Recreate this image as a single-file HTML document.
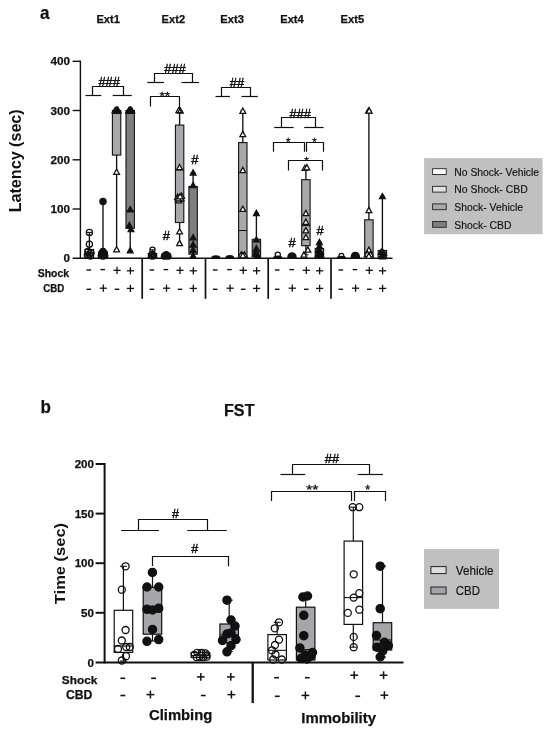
<!DOCTYPE html>
<html lang="en"><head><meta charset="utf-8"><title>Figure: Latency and FST</title>
<style>
html,body{margin:0;padding:0;background:#fff}
body{width:550px;height:732px;overflow:hidden}
svg{display:block;font-family:"Liberation Sans",Arial,sans-serif;fill:#111}
</style></head><body>
<svg width="550" height="732" viewBox="0 0 550 732">
<rect x="0" y="0" width="550" height="732" fill="#fff" stroke="none"/>
<text x="40.0" y="18.7" font-size="18.5" font-weight="bold" stroke="#111" stroke-width="0.25" textLength="9.5" lengthAdjust="spacingAndGlyphs">a</text>
<text x="96.4" y="23.1" font-size="11" font-weight="bold" stroke="#111" stroke-width="0.25" textLength="23.6" lengthAdjust="spacingAndGlyphs">Ext1</text>
<text x="161.5" y="23.1" font-size="11" font-weight="bold" stroke="#111" stroke-width="0.25" textLength="23.6" lengthAdjust="spacingAndGlyphs">Ext2</text>
<text x="220.3" y="23.1" font-size="11" font-weight="bold" stroke="#111" stroke-width="0.25" textLength="23.6" lengthAdjust="spacingAndGlyphs">Ext3</text>
<text x="280.2" y="23.1" font-size="11" font-weight="bold" stroke="#111" stroke-width="0.25" textLength="23.6" lengthAdjust="spacingAndGlyphs">Ext4</text>
<text x="340.5" y="23.1" font-size="11" font-weight="bold" stroke="#111" stroke-width="0.25" textLength="23.6" lengthAdjust="spacingAndGlyphs">Ext5</text>
<text transform="translate(20.6,212.3) rotate(-90)" font-size="15.6" font-weight="bold" textLength="103" lengthAdjust="spacingAndGlyphs">Latency (sec)</text>
<line x1="80.4" y1="60.6" x2="80.4" y2="258.9" stroke="#111" stroke-width="1.4"/>
<line x1="72.6" y1="258.2" x2="392.5" y2="258.2" stroke="#111" stroke-width="1.4"/>
<text x="69.9" y="262.3" font-size="11.7" font-weight="bold" stroke="#111" stroke-width="0.25" text-anchor="end">0</text>
<line x1="72.6" y1="209.0" x2="80.4" y2="209.0" stroke="#111" stroke-width="1.4"/>
<text x="69.9" y="213.1" font-size="11.7" font-weight="bold" stroke="#111" stroke-width="0.25" text-anchor="end">100</text>
<line x1="72.6" y1="159.8" x2="80.4" y2="159.8" stroke="#111" stroke-width="1.4"/>
<text x="69.9" y="163.9" font-size="11.7" font-weight="bold" stroke="#111" stroke-width="0.25" text-anchor="end">200</text>
<line x1="72.6" y1="110.5" x2="80.4" y2="110.5" stroke="#111" stroke-width="1.4"/>
<text x="69.9" y="114.6" font-size="11.7" font-weight="bold" stroke="#111" stroke-width="0.25" text-anchor="end">300</text>
<line x1="72.6" y1="61.3" x2="80.4" y2="61.3" stroke="#111" stroke-width="1.4"/>
<text x="69.9" y="65.4" font-size="11.7" font-weight="bold" stroke="#111" stroke-width="0.25" text-anchor="end">400</text>
<line x1="142.2" y1="258.2" x2="142.2" y2="298.8" stroke="#111" stroke-width="1.7"/>
<line x1="205.5" y1="258.2" x2="205.5" y2="298.8" stroke="#111" stroke-width="1.7"/>
<line x1="268.2" y1="258.2" x2="268.2" y2="298.8" stroke="#111" stroke-width="1.7"/>
<line x1="331.0" y1="258.2" x2="331.0" y2="298.8" stroke="#111" stroke-width="1.7"/>
<text x="37.8" y="277.3" font-size="10.6" font-weight="bold" stroke="#111" stroke-width="0.25" textLength="31.3" lengthAdjust="spacingAndGlyphs">Shock</text>
<text x="43.3" y="291.6" font-size="10.2" font-weight="bold" stroke="#111" stroke-width="0.25" textLength="21.0" lengthAdjust="spacingAndGlyphs">CBD</text>
<line x1="86.5" y1="270.0" x2="91.1" y2="270.0" stroke="#111" stroke-width="1.4"/>
<line x1="100.4" y1="269.6" x2="105.0" y2="269.6" stroke="#111" stroke-width="1.4"/>
<line x1="113.4" y1="270.3" x2="120.6" y2="270.3" stroke="#111" stroke-width="1.3"/>
<line x1="117.0" y1="266.7" x2="117.0" y2="273.9" stroke="#111" stroke-width="1.3"/>
<line x1="126.8" y1="270.8" x2="134.0" y2="270.8" stroke="#111" stroke-width="1.3"/>
<line x1="130.4" y1="267.2" x2="130.4" y2="274.4" stroke="#111" stroke-width="1.3"/>
<line x1="86.5" y1="289.3" x2="91.1" y2="289.3" stroke="#111" stroke-width="1.4"/>
<line x1="99.7" y1="288.2" x2="106.9" y2="288.2" stroke="#111" stroke-width="1.3"/>
<line x1="103.3" y1="284.6" x2="103.3" y2="291.8" stroke="#111" stroke-width="1.3"/>
<line x1="114.7" y1="289.3" x2="119.3" y2="289.3" stroke="#111" stroke-width="1.4"/>
<line x1="126.8" y1="288.4" x2="134.0" y2="288.4" stroke="#111" stroke-width="1.3"/>
<line x1="130.4" y1="284.8" x2="130.4" y2="292.0" stroke="#111" stroke-width="1.3"/>
<line x1="149.6" y1="270.0" x2="154.2" y2="270.0" stroke="#111" stroke-width="1.4"/>
<line x1="163.6" y1="269.6" x2="168.2" y2="269.6" stroke="#111" stroke-width="1.4"/>
<line x1="176.4" y1="270.3" x2="183.6" y2="270.3" stroke="#111" stroke-width="1.3"/>
<line x1="180.0" y1="266.7" x2="180.0" y2="273.9" stroke="#111" stroke-width="1.3"/>
<line x1="189.7" y1="270.8" x2="196.9" y2="270.8" stroke="#111" stroke-width="1.3"/>
<line x1="193.3" y1="267.2" x2="193.3" y2="274.4" stroke="#111" stroke-width="1.3"/>
<line x1="149.6" y1="289.3" x2="154.2" y2="289.3" stroke="#111" stroke-width="1.4"/>
<line x1="162.9" y1="288.2" x2="170.1" y2="288.2" stroke="#111" stroke-width="1.3"/>
<line x1="166.5" y1="284.6" x2="166.5" y2="291.8" stroke="#111" stroke-width="1.3"/>
<line x1="177.7" y1="289.3" x2="182.3" y2="289.3" stroke="#111" stroke-width="1.4"/>
<line x1="189.7" y1="288.4" x2="196.9" y2="288.4" stroke="#111" stroke-width="1.3"/>
<line x1="193.3" y1="284.8" x2="193.3" y2="292.0" stroke="#111" stroke-width="1.3"/>
<line x1="212.9" y1="270.0" x2="217.5" y2="270.0" stroke="#111" stroke-width="1.4"/>
<line x1="227.2" y1="269.6" x2="231.8" y2="269.6" stroke="#111" stroke-width="1.4"/>
<line x1="239.6" y1="270.3" x2="246.8" y2="270.3" stroke="#111" stroke-width="1.3"/>
<line x1="243.2" y1="266.7" x2="243.2" y2="273.9" stroke="#111" stroke-width="1.3"/>
<line x1="253.0" y1="270.8" x2="260.2" y2="270.8" stroke="#111" stroke-width="1.3"/>
<line x1="256.6" y1="267.2" x2="256.6" y2="274.4" stroke="#111" stroke-width="1.3"/>
<line x1="212.9" y1="289.3" x2="217.5" y2="289.3" stroke="#111" stroke-width="1.4"/>
<line x1="226.5" y1="288.2" x2="233.7" y2="288.2" stroke="#111" stroke-width="1.3"/>
<line x1="230.1" y1="284.6" x2="230.1" y2="291.8" stroke="#111" stroke-width="1.3"/>
<line x1="240.9" y1="289.3" x2="245.5" y2="289.3" stroke="#111" stroke-width="1.4"/>
<line x1="253.0" y1="288.4" x2="260.2" y2="288.4" stroke="#111" stroke-width="1.3"/>
<line x1="256.6" y1="284.8" x2="256.6" y2="292.0" stroke="#111" stroke-width="1.3"/>
<line x1="274.9" y1="270.0" x2="279.5" y2="270.0" stroke="#111" stroke-width="1.4"/>
<line x1="289.4" y1="269.6" x2="294.0" y2="269.6" stroke="#111" stroke-width="1.4"/>
<line x1="302.7" y1="270.3" x2="309.9" y2="270.3" stroke="#111" stroke-width="1.3"/>
<line x1="306.3" y1="266.7" x2="306.3" y2="273.9" stroke="#111" stroke-width="1.3"/>
<line x1="316.0" y1="270.8" x2="323.2" y2="270.8" stroke="#111" stroke-width="1.3"/>
<line x1="319.6" y1="267.2" x2="319.6" y2="274.4" stroke="#111" stroke-width="1.3"/>
<line x1="274.9" y1="289.3" x2="279.5" y2="289.3" stroke="#111" stroke-width="1.4"/>
<line x1="288.7" y1="288.2" x2="295.9" y2="288.2" stroke="#111" stroke-width="1.3"/>
<line x1="292.3" y1="284.6" x2="292.3" y2="291.8" stroke="#111" stroke-width="1.3"/>
<line x1="304.0" y1="289.3" x2="308.6" y2="289.3" stroke="#111" stroke-width="1.4"/>
<line x1="316.0" y1="288.4" x2="323.2" y2="288.4" stroke="#111" stroke-width="1.3"/>
<line x1="319.6" y1="284.8" x2="319.6" y2="292.0" stroke="#111" stroke-width="1.3"/>
<line x1="338.5" y1="270.0" x2="343.1" y2="270.0" stroke="#111" stroke-width="1.4"/>
<line x1="352.7" y1="269.6" x2="357.3" y2="269.6" stroke="#111" stroke-width="1.4"/>
<line x1="365.7" y1="270.3" x2="372.9" y2="270.3" stroke="#111" stroke-width="1.3"/>
<line x1="369.3" y1="266.7" x2="369.3" y2="273.9" stroke="#111" stroke-width="1.3"/>
<line x1="379.0" y1="270.8" x2="386.2" y2="270.8" stroke="#111" stroke-width="1.3"/>
<line x1="382.6" y1="267.2" x2="382.6" y2="274.4" stroke="#111" stroke-width="1.3"/>
<line x1="338.5" y1="289.3" x2="343.1" y2="289.3" stroke="#111" stroke-width="1.4"/>
<line x1="352.0" y1="288.2" x2="359.2" y2="288.2" stroke="#111" stroke-width="1.3"/>
<line x1="355.6" y1="284.6" x2="355.6" y2="291.8" stroke="#111" stroke-width="1.3"/>
<line x1="367.0" y1="289.3" x2="371.6" y2="289.3" stroke="#111" stroke-width="1.4"/>
<line x1="379.0" y1="288.4" x2="386.2" y2="288.4" stroke="#111" stroke-width="1.3"/>
<line x1="382.6" y1="284.8" x2="382.6" y2="292.0" stroke="#111" stroke-width="1.3"/>
<rect x="85.2" y="249.5" width="8.4" height="8.1" fill="#fff" stroke="#111" stroke-width="1.1"/>
<line x1="85.2" y1="254.0" x2="93.6" y2="254.0" stroke="#111" stroke-width="1.0"/>
<line x1="89.4" y1="232.4" x2="89.4" y2="249.5" stroke="#111" stroke-width="1.35"/>
<line x1="86.9" y1="232.4" x2="91.9" y2="232.4" stroke="#111" stroke-width="1.1"/>
<circle cx="89.4" cy="232.4" r="3.1" fill="none" stroke="#111" stroke-width="1.25"/>
<circle cx="89.4" cy="244.3" r="3.1" fill="none" stroke="#111" stroke-width="1.25"/>
<circle cx="87.9" cy="251.5" r="3.1" fill="none" stroke="#111" stroke-width="1.25"/>
<circle cx="90.9" cy="253.0" r="3.1" fill="none" stroke="#111" stroke-width="1.25"/>
<circle cx="87.4" cy="255.0" r="3.1" fill="none" stroke="#111" stroke-width="1.25"/>
<circle cx="90.4" cy="256.0" r="3.1" fill="none" stroke="#111" stroke-width="1.25"/>
<circle cx="89.4" cy="254.0" r="3.1" fill="none" stroke="#111" stroke-width="1.25"/>
<rect x="98.8" y="252.0" width="8.4" height="5.6" fill="#e0e0e0" stroke="#111" stroke-width="1.1"/>
<line x1="98.8" y1="255.0" x2="107.2" y2="255.0" stroke="#111" stroke-width="1.0"/>
<line x1="103.0" y1="201.5" x2="103.0" y2="252.0" stroke="#111" stroke-width="1.35"/>
<line x1="100.5" y1="201.5" x2="105.5" y2="201.5" stroke="#111" stroke-width="1.1"/>
<circle cx="103.0" cy="201.5" r="3.1" fill="#111" stroke="#111" stroke-width="1.25"/>
<circle cx="103.0" cy="251.5" r="3.1" fill="#111" stroke="#111" stroke-width="1.25"/>
<circle cx="101.7" cy="253.5" r="3.1" fill="#111" stroke="#111" stroke-width="1.25"/>
<circle cx="104.3" cy="253.5" r="3.1" fill="#111" stroke="#111" stroke-width="1.25"/>
<circle cx="101.3" cy="255.6" r="3.1" fill="#111" stroke="#111" stroke-width="1.25"/>
<circle cx="104.7" cy="255.6" r="3.1" fill="#111" stroke="#111" stroke-width="1.25"/>
<circle cx="103.0" cy="256.0" r="3.1" fill="#111" stroke="#111" stroke-width="1.25"/>
<rect x="112.4" y="110.5" width="8.4" height="44.6" fill="#a9a9ad" stroke="#111" stroke-width="1.1"/>
<line x1="116.6" y1="155.1" x2="116.6" y2="250.0" stroke="#111" stroke-width="1.35"/>
<line x1="114.1" y1="250.0" x2="119.1" y2="250.0" stroke="#111" stroke-width="1.1"/>
<path d="M116.6 169.1L119.5 174.3L113.7 174.3Z" fill="#fff" stroke="#111" stroke-width="1.25" stroke-linejoin="miter"/>
<path d="M116.6 246.6L119.5 251.8L113.7 251.8Z" fill="#fff" stroke="#111" stroke-width="1.25" stroke-linejoin="miter"/>
<path d="M115.0 107.7L117.9 112.9L112.1 112.9Z" fill="none" stroke="#111" stroke-width="1.25" stroke-linejoin="miter"/>
<path d="M115.8 107.4L118.7 112.6L112.9 112.6Z" fill="none" stroke="#111" stroke-width="1.25" stroke-linejoin="miter"/>
<path d="M116.6 107.9L119.5 113.1L113.7 113.1Z" fill="none" stroke="#111" stroke-width="1.25" stroke-linejoin="miter"/>
<path d="M117.4 107.4L120.3 112.6L114.5 112.6Z" fill="none" stroke="#111" stroke-width="1.25" stroke-linejoin="miter"/>
<path d="M118.2 107.7L121.1 112.9L115.3 112.9Z" fill="none" stroke="#111" stroke-width="1.25" stroke-linejoin="miter"/>
<path d="M116.9 107.1L119.8 112.3L114.0 112.3Z" fill="none" stroke="#111" stroke-width="1.25" stroke-linejoin="miter"/>
<path d="M116.2 108.1L119.1 113.3L113.3 113.3Z" fill="none" stroke="#111" stroke-width="1.25" stroke-linejoin="miter"/>
<rect x="126.0" y="110.5" width="8.4" height="117.8" fill="#7f7f7f" stroke="#111" stroke-width="1.1"/>
<line x1="126.0" y1="210.8" x2="134.4" y2="210.8" stroke="#111" stroke-width="1.0"/>
<line x1="130.2" y1="228.3" x2="130.2" y2="251.0" stroke="#111" stroke-width="1.35"/>
<line x1="127.7" y1="251.0" x2="132.7" y2="251.0" stroke="#111" stroke-width="1.1"/>
<path d="M130.2 206.6L133.1 211.8L127.3 211.8Z" fill="#111" stroke="#111" stroke-width="1.25" stroke-linejoin="miter"/>
<path d="M129.4 222.4L132.3 227.6L126.5 227.6Z" fill="#111" stroke="#111" stroke-width="1.25" stroke-linejoin="miter"/>
<path d="M131.0 226.4L133.9 231.6L128.1 231.6Z" fill="#111" stroke="#111" stroke-width="1.25" stroke-linejoin="miter"/>
<path d="M130.2 247.6L133.1 252.8L127.3 252.8Z" fill="#111" stroke="#111" stroke-width="1.25" stroke-linejoin="miter"/>
<path d="M128.6 107.7L131.5 112.9L125.7 112.9Z" fill="none" stroke="#111" stroke-width="1.25" stroke-linejoin="miter"/>
<path d="M129.4 107.4L132.3 112.6L126.5 112.6Z" fill="none" stroke="#111" stroke-width="1.25" stroke-linejoin="miter"/>
<path d="M130.2 107.9L133.1 113.1L127.3 113.1Z" fill="none" stroke="#111" stroke-width="1.25" stroke-linejoin="miter"/>
<path d="M131.0 107.4L133.9 112.6L128.1 112.6Z" fill="none" stroke="#111" stroke-width="1.25" stroke-linejoin="miter"/>
<path d="M131.8 107.7L134.7 112.9L128.9 112.9Z" fill="none" stroke="#111" stroke-width="1.25" stroke-linejoin="miter"/>
<path d="M130.5 107.1L133.4 112.3L127.6 112.3Z" fill="none" stroke="#111" stroke-width="1.25" stroke-linejoin="miter"/>
<path d="M129.8 108.1L132.7 113.3L126.9 113.3Z" fill="none" stroke="#111" stroke-width="1.25" stroke-linejoin="miter"/>
<rect x="148.3" y="253.5" width="8.4" height="4.1" fill="#fff" stroke="#111" stroke-width="1.1"/>
<line x1="148.3" y1="255.8" x2="156.7" y2="255.8" stroke="#111" stroke-width="1.0"/>
<line x1="152.5" y1="249.8" x2="152.5" y2="253.5" stroke="#111" stroke-width="1.35"/>
<line x1="150.0" y1="249.8" x2="155.0" y2="249.8" stroke="#111" stroke-width="1.1"/>
<circle cx="152.5" cy="249.8" r="2.6" fill="none" stroke="#111" stroke-width="1.25"/>
<circle cx="151.7" cy="254.0" r="2.6" fill="none" stroke="#111" stroke-width="1.25"/>
<circle cx="153.3" cy="255.0" r="2.6" fill="none" stroke="#111" stroke-width="1.25"/>
<circle cx="152.5" cy="256.2" r="2.6" fill="none" stroke="#111" stroke-width="1.25"/>
<circle cx="151.2" cy="256.3" r="2.6" fill="none" stroke="#111" stroke-width="1.25"/>
<circle cx="153.8" cy="256.3" r="2.6" fill="none" stroke="#111" stroke-width="1.25"/>
<rect x="162.0" y="254.0" width="8.4" height="3.6" fill="#e0e0e0" stroke="#111" stroke-width="1.1"/>
<circle cx="166.2" cy="254.0" r="2.5" fill="#111" stroke="#111" stroke-width="1.25"/>
<circle cx="164.6" cy="255.2" r="2.5" fill="#111" stroke="#111" stroke-width="1.25"/>
<circle cx="167.8" cy="255.2" r="2.5" fill="#111" stroke="#111" stroke-width="1.25"/>
<circle cx="163.8" cy="256.6" r="2.5" fill="#111" stroke="#111" stroke-width="1.25"/>
<circle cx="168.6" cy="256.6" r="2.5" fill="#111" stroke="#111" stroke-width="1.25"/>
<circle cx="166.2" cy="256.5" r="2.5" fill="#111" stroke="#111" stroke-width="1.25"/>
<rect x="175.4" y="125.1" width="8.4" height="97.4" fill="#a9a9ad" stroke="#111" stroke-width="1.1"/>
<line x1="175.4" y1="170.0" x2="183.8" y2="170.0" stroke="#111" stroke-width="1.0"/>
<line x1="179.6" y1="110.7" x2="179.6" y2="125.1" stroke="#111" stroke-width="1.35"/>
<line x1="177.1" y1="110.7" x2="182.1" y2="110.7" stroke="#111" stroke-width="1.1"/>
<line x1="179.6" y1="222.5" x2="179.6" y2="243.3" stroke="#111" stroke-width="1.35"/>
<line x1="177.1" y1="243.3" x2="182.1" y2="243.3" stroke="#111" stroke-width="1.1"/>
<path d="M178.8 107.5L181.7 112.7L175.9 112.7Z" fill="#fff" stroke="#111" stroke-width="1.25" stroke-linejoin="miter"/>
<path d="M180.4 108.0L183.3 113.2L177.5 113.2Z" fill="none" stroke="#111" stroke-width="1.25" stroke-linejoin="miter"/>
<path d="M179.6 164.5L182.5 169.7L176.7 169.7Z" fill="#fff" stroke="#111" stroke-width="1.25" stroke-linejoin="miter"/>
<path d="M177.6 194.1L180.5 199.3L174.7 199.3Z" fill="#fff" stroke="#111" stroke-width="1.25" stroke-linejoin="miter"/>
<path d="M181.6 193.1L184.5 198.3L178.7 198.3Z" fill="#fff" stroke="#111" stroke-width="1.25" stroke-linejoin="miter"/>
<path d="M179.6 196.1L182.5 201.3L176.7 201.3Z" fill="#fff" stroke="#111" stroke-width="1.25" stroke-linejoin="miter"/>
<path d="M178.6 197.6L181.5 202.8L175.7 202.8Z" fill="#fff" stroke="#111" stroke-width="1.25" stroke-linejoin="miter"/>
<path d="M181.1 195.6L184.0 200.8L178.2 200.8Z" fill="#fff" stroke="#111" stroke-width="1.25" stroke-linejoin="miter"/>
<path d="M178.1 195.6L181.0 200.8L175.2 200.8Z" fill="#fff" stroke="#111" stroke-width="1.25" stroke-linejoin="miter"/>
<path d="M180.1 193.6L183.0 198.8L177.2 198.8Z" fill="#fff" stroke="#111" stroke-width="1.25" stroke-linejoin="miter"/>
<path d="M179.6 228.7L182.5 233.9L176.7 233.9Z" fill="#fff" stroke="#111" stroke-width="1.25" stroke-linejoin="miter"/>
<path d="M179.6 240.4L182.5 245.6L176.7 245.6Z" fill="#fff" stroke="#111" stroke-width="1.25" stroke-linejoin="miter"/>
<rect x="188.9" y="186.5" width="8.4" height="67.7" fill="#7f7f7f" stroke="#111" stroke-width="1.1"/>
<line x1="188.9" y1="247.0" x2="197.3" y2="247.0" stroke="#111" stroke-width="1.0"/>
<line x1="193.1" y1="172.8" x2="193.1" y2="186.5" stroke="#111" stroke-width="1.35"/>
<line x1="190.6" y1="172.8" x2="195.6" y2="172.8" stroke="#111" stroke-width="1.1"/>
<line x1="193.1" y1="254.2" x2="193.1" y2="257.0" stroke="#111" stroke-width="1.35"/>
<line x1="190.6" y1="257.0" x2="195.6" y2="257.0" stroke="#111" stroke-width="1.1"/>
<path d="M193.1 169.9L196.0 175.1L190.2 175.1Z" fill="#111" stroke="#111" stroke-width="1.25" stroke-linejoin="miter"/>
<path d="M193.1 182.4L196.0 187.6L190.2 187.6Z" fill="#111" stroke="#111" stroke-width="1.25" stroke-linejoin="miter"/>
<path d="M193.1 234.6L196.0 239.8L190.2 239.8Z" fill="#111" stroke="#111" stroke-width="1.25" stroke-linejoin="miter"/>
<path d="M193.1 241.6L196.0 246.8L190.2 246.8Z" fill="#111" stroke="#111" stroke-width="1.25" stroke-linejoin="miter"/>
<path d="M193.1 247.1L196.0 252.3L190.2 252.3Z" fill="#111" stroke="#111" stroke-width="1.25" stroke-linejoin="miter"/>
<path d="M193.1 252.9L196.0 258.1L190.2 258.1Z" fill="#111" stroke="#111" stroke-width="1.25" stroke-linejoin="miter"/>
<path d="M211.1 258.2Q211.1 255.2 215.8 255.2Q220.6 255.2 220.6 258.2Z" fill="#111"/>
<path d="M225.3 258.2Q225.3 255.0 229.8 255.0Q234.3 255.0 234.3 258.2Z" fill="#111"/>
<rect x="238.6" y="142.6" width="8.4" height="114.2" fill="#a9a9ad" stroke="#111" stroke-width="1.1"/>
<line x1="238.6" y1="230.5" x2="247.0" y2="230.5" stroke="#111" stroke-width="1.0"/>
<line x1="242.8" y1="111.0" x2="242.8" y2="142.6" stroke="#111" stroke-width="1.35"/>
<line x1="240.3" y1="111.0" x2="245.3" y2="111.0" stroke="#111" stroke-width="1.1"/>
<path d="M242.8 108.1L245.7 113.3L239.9 113.3Z" fill="#fff" stroke="#111" stroke-width="1.25" stroke-linejoin="miter"/>
<path d="M242.8 131.4L245.7 136.6L239.9 136.6Z" fill="#fff" stroke="#111" stroke-width="1.25" stroke-linejoin="miter"/>
<path d="M242.8 167.4L245.7 172.6L239.9 172.6Z" fill="#fff" stroke="#111" stroke-width="1.25" stroke-linejoin="miter"/>
<path d="M242.8 206.2L245.7 211.4L239.9 211.4Z" fill="#fff" stroke="#111" stroke-width="1.25" stroke-linejoin="miter"/>
<path d="M241.2 251.9L244.1 257.1L238.3 257.1Z" fill="#fff" stroke="#111" stroke-width="1.25" stroke-linejoin="miter"/>
<path d="M244.4 251.9L247.3 257.1L241.5 257.1Z" fill="#fff" stroke="#111" stroke-width="1.25" stroke-linejoin="miter"/>
<path d="M242.8 252.6L245.7 257.8L239.9 257.8Z" fill="#fff" stroke="#111" stroke-width="1.25" stroke-linejoin="miter"/>
<rect x="252.2" y="239.3" width="8.4" height="17.5" fill="#7f7f7f" stroke="#111" stroke-width="1.1"/>
<line x1="252.2" y1="252.0" x2="260.6" y2="252.0" stroke="#111" stroke-width="1.0"/>
<line x1="256.4" y1="213.2" x2="256.4" y2="239.3" stroke="#111" stroke-width="1.35"/>
<line x1="253.9" y1="213.2" x2="258.9" y2="213.2" stroke="#111" stroke-width="1.1"/>
<path d="M256.4 210.3L259.3 215.5L253.5 215.5Z" fill="#111" stroke="#111" stroke-width="1.25" stroke-linejoin="miter"/>
<path d="M256.4 236.7L259.3 241.9L253.5 241.9Z" fill="#111" stroke="#111" stroke-width="1.25" stroke-linejoin="miter"/>
<path d="M256.4 245.6L259.3 250.8L253.5 250.8Z" fill="#111" stroke="#111" stroke-width="1.25" stroke-linejoin="miter"/>
<path d="M255.4 250.6L258.3 255.8L252.5 255.8Z" fill="#111" stroke="#111" stroke-width="1.25" stroke-linejoin="miter"/>
<path d="M257.4 252.1L260.3 257.3L254.5 257.3Z" fill="#111" stroke="#111" stroke-width="1.25" stroke-linejoin="miter"/>
<circle cx="277.8" cy="254.8" r="2.6" fill="none" stroke="#111" stroke-width="1.25"/>
<path d="M273.1 258.2Q273.1 255.6 277.8 255.6Q282.6 255.6 282.6 258.2Z" fill="#111"/>
<path d="M287.2 258.2Q287.2 252.2 292.0 252.2Q296.8 252.2 296.8 258.2Z" fill="#111"/>
<rect x="301.7" y="179.7" width="8.4" height="66.0" fill="#a9a9ad" stroke="#111" stroke-width="1.1"/>
<line x1="301.7" y1="225.6" x2="310.1" y2="225.6" stroke="#111" stroke-width="1.0"/>
<line x1="305.9" y1="167.9" x2="305.9" y2="179.7" stroke="#111" stroke-width="1.35"/>
<line x1="303.4" y1="167.9" x2="308.4" y2="167.9" stroke="#111" stroke-width="1.1"/>
<line x1="305.9" y1="245.7" x2="305.9" y2="254.8" stroke="#111" stroke-width="1.35"/>
<line x1="303.4" y1="254.8" x2="308.4" y2="254.8" stroke="#111" stroke-width="1.1"/>
<path d="M304.9 165.2L307.8 170.4L302.0 170.4Z" fill="#fff" stroke="#111" stroke-width="1.25" stroke-linejoin="miter"/>
<path d="M306.9 164.6L309.8 169.8L304.0 169.8Z" fill="#fff" stroke="#111" stroke-width="1.25" stroke-linejoin="miter"/>
<path d="M305.9 210.4L308.8 215.6L303.0 215.6Z" fill="#fff" stroke="#111" stroke-width="1.25" stroke-linejoin="miter"/>
<path d="M305.9 219.1L308.8 224.3L303.0 224.3Z" fill="#fff" stroke="#111" stroke-width="1.25" stroke-linejoin="miter"/>
<path d="M305.9 227.6L308.8 232.8L303.0 232.8Z" fill="#fff" stroke="#111" stroke-width="1.25" stroke-linejoin="miter"/>
<path d="M305.9 234.5L308.8 239.7L303.0 239.7Z" fill="#fff" stroke="#111" stroke-width="1.25" stroke-linejoin="miter"/>
<path d="M307.9 246.9L310.8 252.1L305.0 252.1Z" fill="#fff" stroke="#111" stroke-width="1.25" stroke-linejoin="miter"/>
<path d="M303.9 251.9L306.8 257.1L301.0 257.1Z" fill="#fff" stroke="#111" stroke-width="1.25" stroke-linejoin="miter"/>
<rect x="315.2" y="248.5" width="8.4" height="8.5" fill="#7f7f7f" stroke="#111" stroke-width="1.1"/>
<line x1="319.4" y1="242.3" x2="319.4" y2="248.5" stroke="#111" stroke-width="1.35"/>
<line x1="316.9" y1="242.3" x2="321.9" y2="242.3" stroke="#111" stroke-width="1.1"/>
<path d="M319.4 239.4L322.3 244.6L316.5 244.6Z" fill="#111" stroke="#111" stroke-width="1.25" stroke-linejoin="miter"/>
<path d="M319.4 243.1L322.3 248.3L316.5 248.3Z" fill="#111" stroke="#111" stroke-width="1.25" stroke-linejoin="miter"/>
<path d="M318.4 247.1L321.3 252.3L315.5 252.3Z" fill="#111" stroke="#111" stroke-width="1.25" stroke-linejoin="miter"/>
<path d="M320.4 249.1L323.3 254.3L317.5 254.3Z" fill="#111" stroke="#111" stroke-width="1.25" stroke-linejoin="miter"/>
<path d="M318.0 251.6L320.9 256.8L315.1 256.8Z" fill="#111" stroke="#111" stroke-width="1.25" stroke-linejoin="miter"/>
<path d="M320.8 251.6L323.7 256.8L317.9 256.8Z" fill="#111" stroke="#111" stroke-width="1.25" stroke-linejoin="miter"/>
<path d="M319.4 253.1L322.3 258.3L316.5 258.3Z" fill="#111" stroke="#111" stroke-width="1.25" stroke-linejoin="miter"/>
<circle cx="341.4" cy="255.8" r="2.4" fill="none" stroke="#111" stroke-width="1.25"/>
<path d="M336.6 258.2Q336.6 255.8 341.4 255.8Q346.1 255.8 346.1 258.2Z" fill="#111"/>
<path d="M350.6 258.2Q350.6 251.8 355.3 251.8Q360.1 251.8 360.1 258.2Z" fill="#111"/>
<rect x="364.7" y="219.8" width="8.4" height="37.0" fill="#a9a9ad" stroke="#111" stroke-width="1.1"/>
<line x1="364.7" y1="252.5" x2="373.1" y2="252.5" stroke="#111" stroke-width="1.0"/>
<line x1="368.9" y1="110.7" x2="368.9" y2="219.8" stroke="#111" stroke-width="1.35"/>
<line x1="366.4" y1="110.7" x2="371.4" y2="110.7" stroke="#111" stroke-width="1.1"/>
<path d="M368.6 107.7L371.5 112.9L365.7 112.9Z" fill="#fff" stroke="#111" stroke-width="1.25" stroke-linejoin="miter"/>
<path d="M369.2 107.9L372.1 113.1L366.3 113.1Z" fill="#fff" stroke="#111" stroke-width="1.25" stroke-linejoin="miter"/>
<path d="M368.9 207.4L371.8 212.6L366.0 212.6Z" fill="#fff" stroke="#111" stroke-width="1.25" stroke-linejoin="miter"/>
<path d="M368.9 247.1L371.8 252.3L366.0 252.3Z" fill="#fff" stroke="#111" stroke-width="1.25" stroke-linejoin="miter"/>
<path d="M367.3 251.1L370.2 256.3L364.4 256.3Z" fill="#fff" stroke="#111" stroke-width="1.25" stroke-linejoin="miter"/>
<path d="M370.5 251.6L373.4 256.8L367.6 256.8Z" fill="#fff" stroke="#111" stroke-width="1.25" stroke-linejoin="miter"/>
<path d="M368.9 253.1L371.8 258.3L366.0 258.3Z" fill="#fff" stroke="#111" stroke-width="1.25" stroke-linejoin="miter"/>
<rect x="378.2" y="250.5" width="8.4" height="6.7" fill="#7f7f7f" stroke="#111" stroke-width="1.1"/>
<line x1="382.4" y1="196.4" x2="382.4" y2="250.5" stroke="#111" stroke-width="1.35"/>
<line x1="379.9" y1="196.4" x2="384.9" y2="196.4" stroke="#111" stroke-width="1.1"/>
<path d="M382.4 193.5L385.3 198.7L379.5 198.7Z" fill="#111" stroke="#111" stroke-width="1.25" stroke-linejoin="miter"/>
<path d="M381.2 249.1L384.1 254.3L378.3 254.3Z" fill="#111" stroke="#111" stroke-width="1.25" stroke-linejoin="miter"/>
<path d="M383.6 250.1L386.5 255.3L380.7 255.3Z" fill="#111" stroke="#111" stroke-width="1.25" stroke-linejoin="miter"/>
<path d="M382.4 252.1L385.3 257.3L379.5 257.3Z" fill="#111" stroke="#111" stroke-width="1.25" stroke-linejoin="miter"/>
<path d="M382.4 253.6L385.3 258.8L379.5 258.8Z" fill="#111" stroke="#111" stroke-width="1.25" stroke-linejoin="miter"/>
<path d="M92.5 95.5V86.5H123.5V95.5" fill="none" stroke="#111" stroke-width="1.2"/>
<line x1="85.5" y1="95.5" x2="101.3" y2="95.5" stroke="#111" stroke-width="1.2"/>
<line x1="112.7" y1="95.5" x2="131.8" y2="95.5" stroke="#111" stroke-width="1.2"/>
<text x="109.2" y="86.0" font-size="13" text-anchor="middle" textLength="21.6" lengthAdjust="spacingAndGlyphs" stroke="#111" stroke-width="0.45">###</text>
<path d="M154.5 82.5V73.5H192.5V82.5" fill="none" stroke="#111" stroke-width="1.2"/>
<line x1="147.3" y1="82.5" x2="164.0" y2="82.5" stroke="#111" stroke-width="1.2"/>
<line x1="181.5" y1="82.5" x2="199.1" y2="82.5" stroke="#111" stroke-width="1.2"/>
<text x="175.0" y="72.8" font-size="13" text-anchor="middle" textLength="21.6" lengthAdjust="spacingAndGlyphs" stroke="#111" stroke-width="0.45">###</text>
<path d="M221.5 96.5V87.5H250.5V96.5" fill="none" stroke="#111" stroke-width="1.2"/>
<line x1="215.5" y1="96.5" x2="230.0" y2="96.5" stroke="#111" stroke-width="1.2"/>
<line x1="241.5" y1="96.5" x2="257.8" y2="96.5" stroke="#111" stroke-width="1.2"/>
<text x="237.0" y="86.9" font-size="13" text-anchor="middle" textLength="14.4" lengthAdjust="spacingAndGlyphs" stroke="#111" stroke-width="0.45">##</text>
<path d="M281.5 127.5V117.5H315.5V127.5" fill="none" stroke="#111" stroke-width="1.2"/>
<line x1="274.2" y1="127.5" x2="293.6" y2="127.5" stroke="#111" stroke-width="1.2"/>
<line x1="304.2" y1="127.5" x2="323.6" y2="127.5" stroke="#111" stroke-width="1.2"/>
<text x="300.3" y="118.1" font-size="13" text-anchor="middle" textLength="21.4" lengthAdjust="spacingAndGlyphs" stroke="#111" stroke-width="0.45">###</text>
<path d="M150.5 106.6V96.5H179.5V108.0" fill="none" stroke="#111" stroke-width="1.2"/>
<text x="164.8" y="99.7" font-size="11.5" text-anchor="middle" textLength="10.6" lengthAdjust="spacingAndGlyphs" stroke="#111" stroke-width="0.3">**</text>
<path d="M273.5 151.8V142.5H304.5V151.8" fill="none" stroke="#111" stroke-width="1.2"/>
<text x="288.3" y="146.3" font-size="11.5" text-anchor="middle" stroke="#111" stroke-width="0.3">*</text>
<path d="M306.5 151.8V142.5H323.5V151.8" fill="none" stroke="#111" stroke-width="1.2"/>
<text x="314.6" y="146.3" font-size="11.5" text-anchor="middle" stroke="#111" stroke-width="0.3">*</text>
<path d="M288.5 170.4V160.5H322.5V170.4" fill="none" stroke="#111" stroke-width="1.2"/>
<text x="306.4" y="164.6" font-size="11.5" text-anchor="middle" stroke="#111" stroke-width="0.3">*</text>
<text x="194.9" y="163.9" font-size="13" text-anchor="middle" stroke="#111" stroke-width="0.45">#</text>
<text x="166.4" y="240.1" font-size="13" text-anchor="middle" stroke="#111" stroke-width="0.45">#</text>
<text x="320.0" y="235.4" font-size="13" text-anchor="middle" stroke="#111" stroke-width="0.45">#</text>
<text x="292.2" y="247.0" font-size="13" text-anchor="middle" stroke="#111" stroke-width="0.45">#</text>
<rect x="424.1" y="158.1" width="118.5" height="76.1" fill="#c0c0c0"/>
<rect x="432.6" y="168.7" width="13.6" height="5.8" fill="#fff" stroke="#222" stroke-width="0.9"/>
<text x="454.3" y="175.8" font-size="10.4" textLength="84.7" lengthAdjust="spacingAndGlyphs" fill="#111" stroke="#111" stroke-width="0.15">No Shock- Vehicle</text>
<rect x="432.6" y="186.3" width="13.6" height="5.8" fill="#e2e2e2" stroke="#222" stroke-width="0.9"/>
<text x="454.3" y="193.4" font-size="10.4" fill="#111" stroke="#111" stroke-width="0.15">No Shock- CBD</text>
<rect x="432.6" y="203.9" width="13.6" height="5.8" fill="#a9a9ad" stroke="#222" stroke-width="0.9"/>
<text x="454.3" y="211.0" font-size="10.4" fill="#111" stroke="#111" stroke-width="0.15">Shock- Vehicle</text>
<rect x="432.6" y="221.5" width="13.6" height="5.8" fill="#7f7f7f" stroke="#222" stroke-width="0.9"/>
<text x="454.3" y="228.6" font-size="10.4" fill="#111" stroke="#111" stroke-width="0.15">Shock- CBD</text>
<text x="40.4" y="412.7" font-size="19.2" font-weight="bold" stroke="#111" stroke-width="0.25" textLength="10.4" lengthAdjust="spacingAndGlyphs">b</text>
<text x="224.0" y="416.2" font-size="16.6" font-weight="bold" stroke="#111" stroke-width="0.25" textLength="30.5" lengthAdjust="spacingAndGlyphs">FST</text>
<text transform="translate(64.9,604.2) rotate(-90)" font-size="15.4" font-weight="bold" textLength="81.3" lengthAdjust="spacingAndGlyphs">Time (sec)</text>
<line x1="104.6" y1="463.0" x2="104.6" y2="663.4" stroke="#111" stroke-width="2.0"/>
<line x1="95.6" y1="662.4" x2="403.5" y2="662.4" stroke="#111" stroke-width="2.0"/>
<text x="94.0" y="666.6" font-size="11.6" font-weight="bold" stroke="#111" stroke-width="0.25" text-anchor="end">0</text>
<line x1="95.6" y1="612.8" x2="104.6" y2="612.8" stroke="#111" stroke-width="2.0"/>
<text x="94.0" y="617.0" font-size="11.6" font-weight="bold" stroke="#111" stroke-width="0.25" text-anchor="end">50</text>
<line x1="95.6" y1="563.2" x2="104.6" y2="563.2" stroke="#111" stroke-width="2.0"/>
<text x="94.0" y="567.4" font-size="11.6" font-weight="bold" stroke="#111" stroke-width="0.25" text-anchor="end">100</text>
<line x1="95.6" y1="513.6" x2="104.6" y2="513.6" stroke="#111" stroke-width="2.0"/>
<text x="94.0" y="517.8" font-size="11.6" font-weight="bold" stroke="#111" stroke-width="0.25" text-anchor="end">150</text>
<line x1="95.6" y1="464.0" x2="104.6" y2="464.0" stroke="#111" stroke-width="2.0"/>
<text x="94.0" y="468.2" font-size="11.6" font-weight="bold" stroke="#111" stroke-width="0.25" text-anchor="end">200</text>
<line x1="252.7" y1="662.4" x2="252.7" y2="703.1" stroke="#111" stroke-width="2.3"/>
<text x="61.8" y="684.0" font-size="11.8" font-weight="bold" stroke="#111" stroke-width="0.25" textLength="35.5" lengthAdjust="spacingAndGlyphs">Shock</text>
<text x="66.0" y="698.7" font-size="12.2" font-weight="bold" stroke="#111" stroke-width="0.25" textLength="26.4" lengthAdjust="spacingAndGlyphs">CBD</text>
<line x1="120.4" y1="678.3" x2="125.2" y2="678.3" stroke="#111" stroke-width="1.6"/>
<line x1="151.2" y1="678.3" x2="156.0" y2="678.3" stroke="#111" stroke-width="1.6"/>
<line x1="196.9" y1="676.9" x2="204.7" y2="676.9" stroke="#111" stroke-width="1.5"/>
<line x1="200.8" y1="673.0" x2="200.8" y2="680.8" stroke="#111" stroke-width="1.5"/>
<line x1="226.9" y1="676.9" x2="234.7" y2="676.9" stroke="#111" stroke-width="1.5"/>
<line x1="230.8" y1="673.0" x2="230.8" y2="680.8" stroke="#111" stroke-width="1.5"/>
<line x1="120.4" y1="695.5" x2="125.2" y2="695.5" stroke="#111" stroke-width="1.6"/>
<line x1="146.5" y1="694.6" x2="154.3" y2="694.6" stroke="#111" stroke-width="1.5"/>
<line x1="150.4" y1="690.7" x2="150.4" y2="698.5" stroke="#111" stroke-width="1.5"/>
<line x1="200.9" y1="695.5" x2="205.7" y2="695.5" stroke="#111" stroke-width="1.6"/>
<line x1="227.5" y1="694.6" x2="235.3" y2="694.6" stroke="#111" stroke-width="1.5"/>
<line x1="231.4" y1="690.7" x2="231.4" y2="698.5" stroke="#111" stroke-width="1.5"/>
<line x1="274.1" y1="677.7" x2="278.9" y2="677.7" stroke="#111" stroke-width="1.6"/>
<line x1="304.9" y1="677.7" x2="309.7" y2="677.7" stroke="#111" stroke-width="1.6"/>
<line x1="350.3" y1="675.2" x2="358.1" y2="675.2" stroke="#111" stroke-width="1.5"/>
<line x1="354.2" y1="671.3" x2="354.2" y2="679.1" stroke="#111" stroke-width="1.5"/>
<line x1="379.7" y1="675.2" x2="387.5" y2="675.2" stroke="#111" stroke-width="1.5"/>
<line x1="383.6" y1="671.3" x2="383.6" y2="679.1" stroke="#111" stroke-width="1.5"/>
<line x1="274.9" y1="696.3" x2="279.7" y2="696.3" stroke="#111" stroke-width="1.6"/>
<line x1="301.5" y1="695.4" x2="309.3" y2="695.4" stroke="#111" stroke-width="1.5"/>
<line x1="305.4" y1="691.5" x2="305.4" y2="699.3" stroke="#111" stroke-width="1.5"/>
<line x1="355.3" y1="696.3" x2="360.1" y2="696.3" stroke="#111" stroke-width="1.6"/>
<line x1="380.5" y1="695.2" x2="388.3" y2="695.2" stroke="#111" stroke-width="1.5"/>
<line x1="384.4" y1="691.3" x2="384.4" y2="699.1" stroke="#111" stroke-width="1.5"/>
<text x="149.0" y="720.0" font-size="14.8" font-weight="bold" stroke="#111" stroke-width="0.25" textLength="63.3" lengthAdjust="spacingAndGlyphs">Climbing</text>
<text x="301.3" y="722.7" font-size="14.9" font-weight="bold" stroke="#111" stroke-width="0.25" textLength="74.7" lengthAdjust="spacingAndGlyphs">Immobility</text>
<rect x="114.2" y="610.3" width="18.5" height="42.1" fill="#fff" stroke="#111" stroke-width="1.2"/>
<line x1="114.2" y1="646.0" x2="132.7" y2="646.0" stroke="#111" stroke-width="1.1"/>
<line x1="123.4" y1="566.3" x2="123.4" y2="610.3" stroke="#111" stroke-width="1.2"/>
<line x1="119.9" y1="566.3" x2="126.9" y2="566.3" stroke="#111" stroke-width="1.1"/>
<line x1="123.4" y1="652.4" x2="123.4" y2="661.0" stroke="#111" stroke-width="1.2"/>
<line x1="119.9" y1="661.0" x2="126.9" y2="661.0" stroke="#111" stroke-width="1.1"/>
<circle cx="125.6" cy="566.3" r="3.5" fill="none" stroke="#111" stroke-width="1.3"/>
<circle cx="121.8" cy="589.7" r="3.5" fill="none" stroke="#111" stroke-width="1.3"/>
<circle cx="125.6" cy="630.0" r="3.5" fill="none" stroke="#111" stroke-width="1.3"/>
<circle cx="121.8" cy="640.5" r="3.5" fill="none" stroke="#111" stroke-width="1.3"/>
<circle cx="118.0" cy="649.0" r="3.5" fill="none" stroke="#111" stroke-width="1.3"/>
<circle cx="126.2" cy="647.0" r="3.5" fill="none" stroke="#111" stroke-width="1.3"/>
<circle cx="129.8" cy="647.0" r="3.5" fill="none" stroke="#111" stroke-width="1.3"/>
<circle cx="126.0" cy="656.2" r="3.5" fill="none" stroke="#111" stroke-width="1.3"/>
<circle cx="121.8" cy="660.5" r="3.5" fill="none" stroke="#111" stroke-width="1.3"/>
<rect x="143.2" y="587.4" width="18.5" height="46.8" fill="#a6a6aa" stroke="#111" stroke-width="1.2"/>
<line x1="143.2" y1="609.3" x2="161.8" y2="609.3" stroke="#111" stroke-width="1.1"/>
<line x1="152.5" y1="572.4" x2="152.5" y2="587.4" stroke="#111" stroke-width="1.2"/>
<line x1="149.0" y1="572.4" x2="156.0" y2="572.4" stroke="#111" stroke-width="1.1"/>
<line x1="152.5" y1="634.2" x2="152.5" y2="641.0" stroke="#111" stroke-width="1.2"/>
<line x1="149.0" y1="641.0" x2="156.0" y2="641.0" stroke="#111" stroke-width="1.1"/>
<circle cx="152.4" cy="572.4" r="4.1" fill="#111" stroke="#111" stroke-width="1.3"/>
<circle cx="147.0" cy="587.0" r="4.1" fill="#111" stroke="#111" stroke-width="1.3"/>
<circle cx="158.7" cy="587.0" r="4.1" fill="#111" stroke="#111" stroke-width="1.3"/>
<circle cx="147.0" cy="609.3" r="4.1" fill="#111" stroke="#111" stroke-width="1.3"/>
<circle cx="152.5" cy="610.0" r="4.1" fill="#111" stroke="#111" stroke-width="1.3"/>
<circle cx="158.7" cy="608.3" r="4.1" fill="#111" stroke="#111" stroke-width="1.3"/>
<circle cx="152.5" cy="629.4" r="4.1" fill="#111" stroke="#111" stroke-width="1.3"/>
<circle cx="147.0" cy="641.3" r="4.1" fill="#111" stroke="#111" stroke-width="1.3"/>
<circle cx="158.7" cy="639.6" r="4.1" fill="#111" stroke="#111" stroke-width="1.3"/>
<rect x="191.2" y="652.5" width="18.5" height="5.0" fill="#fff" stroke="#111" stroke-width="1.2"/>
<line x1="191.2" y1="655.5" x2="209.8" y2="655.5" stroke="#111" stroke-width="1.1"/>
<line x1="200.5" y1="650.0" x2="200.5" y2="652.5" stroke="#111" stroke-width="1.2"/>
<line x1="197.0" y1="650.0" x2="204.0" y2="650.0" stroke="#111" stroke-width="1.1"/>
<line x1="200.5" y1="657.5" x2="200.5" y2="660.0" stroke="#111" stroke-width="1.2"/>
<line x1="197.0" y1="660.0" x2="204.0" y2="660.0" stroke="#111" stroke-width="1.1"/>
<circle cx="194.3" cy="654.5" r="3.1" fill="none" stroke="#111" stroke-width="1.1"/>
<circle cx="197.0" cy="652.3" r="3.1" fill="none" stroke="#111" stroke-width="1.1"/>
<circle cx="199.5" cy="657.6" r="3.1" fill="none" stroke="#111" stroke-width="1.1"/>
<circle cx="201.5" cy="652.5" r="3.1" fill="none" stroke="#111" stroke-width="1.1"/>
<circle cx="203.5" cy="657.6" r="3.1" fill="none" stroke="#111" stroke-width="1.1"/>
<circle cx="205.5" cy="653.0" r="3.1" fill="none" stroke="#111" stroke-width="1.1"/>
<circle cx="207.0" cy="657.0" r="3.1" fill="none" stroke="#111" stroke-width="1.1"/>
<circle cx="206.8" cy="655.0" r="3.1" fill="none" stroke="#111" stroke-width="1.1"/>
<circle cx="196.5" cy="657.5" r="3.1" fill="none" stroke="#111" stroke-width="1.1"/>
<rect x="219.9" y="624.0" width="18.5" height="18.8" fill="#a6a6aa" stroke="#111" stroke-width="1.2"/>
<line x1="219.9" y1="634.8" x2="238.4" y2="634.8" stroke="#111" stroke-width="1.1"/>
<line x1="229.2" y1="600.2" x2="229.2" y2="624.0" stroke="#111" stroke-width="1.2"/>
<line x1="225.7" y1="600.2" x2="232.7" y2="600.2" stroke="#111" stroke-width="1.1"/>
<line x1="229.2" y1="642.8" x2="229.2" y2="651.4" stroke="#111" stroke-width="1.2"/>
<line x1="225.7" y1="651.4" x2="232.7" y2="651.4" stroke="#111" stroke-width="1.1"/>
<circle cx="227.0" cy="600.2" r="4.1" fill="#111" stroke="#111" stroke-width="1.3"/>
<circle cx="231.0" cy="620.0" r="4.1" fill="#111" stroke="#111" stroke-width="1.3"/>
<circle cx="235.0" cy="626.0" r="4.1" fill="#111" stroke="#111" stroke-width="1.3"/>
<circle cx="227.0" cy="634.0" r="4.1" fill="#111" stroke="#111" stroke-width="1.3"/>
<circle cx="222.5" cy="640.5" r="4.1" fill="#111" stroke="#111" stroke-width="1.3"/>
<circle cx="236.0" cy="639.5" r="4.1" fill="#111" stroke="#111" stroke-width="1.3"/>
<circle cx="231.0" cy="645.7" r="4.1" fill="#111" stroke="#111" stroke-width="1.3"/>
<circle cx="227.0" cy="651.8" r="4.1" fill="#111" stroke="#111" stroke-width="1.3"/>
<circle cx="231.0" cy="633.0" r="4.1" fill="#111" stroke="#111" stroke-width="1.3"/>
<rect x="267.9" y="634.6" width="18.5" height="25.4" fill="#fff" stroke="#111" stroke-width="1.2"/>
<line x1="267.9" y1="650.3" x2="286.4" y2="650.3" stroke="#111" stroke-width="1.1"/>
<line x1="277.2" y1="622.3" x2="277.2" y2="634.6" stroke="#111" stroke-width="1.2"/>
<line x1="273.7" y1="622.3" x2="280.7" y2="622.3" stroke="#111" stroke-width="1.1"/>
<circle cx="279.0" cy="622.3" r="3.5" fill="none" stroke="#111" stroke-width="1.3"/>
<circle cx="274.8" cy="628.3" r="3.5" fill="none" stroke="#111" stroke-width="1.3"/>
<circle cx="279.0" cy="639.7" r="3.5" fill="none" stroke="#111" stroke-width="1.3"/>
<circle cx="275.0" cy="645.0" r="3.5" fill="none" stroke="#111" stroke-width="1.3"/>
<circle cx="272.0" cy="650.3" r="3.5" fill="none" stroke="#111" stroke-width="1.3"/>
<circle cx="275.5" cy="654.5" r="3.5" fill="none" stroke="#111" stroke-width="1.3"/>
<circle cx="281.8" cy="659.5" r="3.5" fill="none" stroke="#111" stroke-width="1.3"/>
<circle cx="273.2" cy="659.5" r="3.5" fill="none" stroke="#111" stroke-width="1.3"/>
<rect x="296.4" y="607.2" width="18.5" height="52.8" fill="#a6a6aa" stroke="#111" stroke-width="1.2"/>
<line x1="296.4" y1="649.7" x2="314.9" y2="649.7" stroke="#111" stroke-width="1.1"/>
<line x1="305.7" y1="596.3" x2="305.7" y2="607.2" stroke="#111" stroke-width="1.2"/>
<line x1="302.2" y1="596.3" x2="309.2" y2="596.3" stroke="#111" stroke-width="1.1"/>
<circle cx="302.9" cy="597.0" r="4.1" fill="#111" stroke="#111" stroke-width="1.3"/>
<circle cx="307.5" cy="596.0" r="4.1" fill="#111" stroke="#111" stroke-width="1.3"/>
<circle cx="303.8" cy="615.3" r="4.1" fill="#111" stroke="#111" stroke-width="1.3"/>
<circle cx="303.8" cy="635.7" r="4.1" fill="#111" stroke="#111" stroke-width="1.3"/>
<circle cx="299.9" cy="648.0" r="4.1" fill="#111" stroke="#111" stroke-width="1.3"/>
<circle cx="305.0" cy="655.0" r="4.1" fill="#111" stroke="#111" stroke-width="1.3"/>
<circle cx="311.0" cy="656.0" r="4.1" fill="#111" stroke="#111" stroke-width="1.3"/>
<circle cx="301.0" cy="658.5" r="4.1" fill="#111" stroke="#111" stroke-width="1.3"/>
<circle cx="307.0" cy="659.0" r="4.1" fill="#111" stroke="#111" stroke-width="1.3"/>
<circle cx="312.5" cy="652.5" r="4.1" fill="#111" stroke="#111" stroke-width="1.3"/>
<rect x="344.1" y="541.1" width="18.5" height="83.3" fill="#fff" stroke="#111" stroke-width="1.2"/>
<line x1="344.1" y1="597.6" x2="362.6" y2="597.6" stroke="#111" stroke-width="1.1"/>
<line x1="353.3" y1="507.2" x2="353.3" y2="541.1" stroke="#111" stroke-width="1.2"/>
<line x1="349.8" y1="507.2" x2="356.8" y2="507.2" stroke="#111" stroke-width="1.1"/>
<line x1="353.3" y1="624.4" x2="353.3" y2="647.2" stroke="#111" stroke-width="1.2"/>
<line x1="349.8" y1="647.2" x2="356.8" y2="647.2" stroke="#111" stroke-width="1.1"/>
<circle cx="352.7" cy="507.2" r="3.5" fill="none" stroke="#111" stroke-width="1.3"/>
<circle cx="359.3" cy="507.2" r="3.5" fill="none" stroke="#111" stroke-width="1.3"/>
<circle cx="353.7" cy="574.3" r="3.5" fill="none" stroke="#111" stroke-width="1.3"/>
<circle cx="359.3" cy="593.2" r="3.5" fill="none" stroke="#111" stroke-width="1.3"/>
<circle cx="353.7" cy="597.6" r="3.5" fill="none" stroke="#111" stroke-width="1.3"/>
<circle cx="359.3" cy="609.7" r="3.5" fill="none" stroke="#111" stroke-width="1.3"/>
<circle cx="347.8" cy="612.9" r="3.5" fill="none" stroke="#111" stroke-width="1.3"/>
<circle cx="353.7" cy="636.9" r="3.5" fill="none" stroke="#111" stroke-width="1.3"/>
<circle cx="353.7" cy="647.2" r="3.5" fill="none" stroke="#111" stroke-width="1.3"/>
<rect x="373.2" y="622.7" width="18.5" height="27.3" fill="#a6a6aa" stroke="#111" stroke-width="1.2"/>
<line x1="373.2" y1="640.0" x2="391.8" y2="640.0" stroke="#111" stroke-width="1.1"/>
<line x1="382.5" y1="566.2" x2="382.5" y2="622.7" stroke="#111" stroke-width="1.2"/>
<line x1="379.0" y1="566.2" x2="386.0" y2="566.2" stroke="#111" stroke-width="1.1"/>
<line x1="382.5" y1="650.0" x2="382.5" y2="657.0" stroke="#111" stroke-width="1.2"/>
<line x1="379.0" y1="657.0" x2="386.0" y2="657.0" stroke="#111" stroke-width="1.1"/>
<circle cx="380.2" cy="566.2" r="4.1" fill="#111" stroke="#111" stroke-width="1.3"/>
<circle cx="380.2" cy="608.7" r="4.1" fill="#111" stroke="#111" stroke-width="1.3"/>
<circle cx="376.5" cy="635.5" r="4.1" fill="#111" stroke="#111" stroke-width="1.3"/>
<circle cx="384.4" cy="642.3" r="4.1" fill="#111" stroke="#111" stroke-width="1.3"/>
<circle cx="377.0" cy="647.2" r="4.1" fill="#111" stroke="#111" stroke-width="1.3"/>
<circle cx="388.3" cy="645.5" r="4.1" fill="#111" stroke="#111" stroke-width="1.3"/>
<circle cx="382.7" cy="651.0" r="4.1" fill="#111" stroke="#111" stroke-width="1.3"/>
<circle cx="380.2" cy="657.0" r="4.1" fill="#111" stroke="#111" stroke-width="1.3"/>
<path d="M138.5 530.5V519.5H207.5V530.5" fill="none" stroke="#111" stroke-width="1.2"/>
<line x1="121.1" y1="530.5" x2="159.0" y2="530.5" stroke="#111" stroke-width="1.2"/>
<line x1="187.3" y1="530.5" x2="226.7" y2="530.5" stroke="#111" stroke-width="1.2"/>
<text x="175.6" y="518.3" font-size="12.5" text-anchor="middle" stroke="#111" stroke-width="0.45">#</text>
<path d="M152.5 566.0V556.5H228.5V566.3" fill="none" stroke="#111" stroke-width="1.2"/>
<text x="194.7" y="553.2" font-size="12.5" text-anchor="middle" stroke="#111" stroke-width="0.45">#</text>
<path d="M292.5 474.5V464.5H369.5V474.5" fill="none" stroke="#111" stroke-width="1.2"/>
<line x1="280.5" y1="474.5" x2="305.3" y2="474.5" stroke="#111" stroke-width="1.2"/>
<line x1="357.6" y1="474.5" x2="382.9" y2="474.5" stroke="#111" stroke-width="1.2"/>
<text x="332.0" y="463.2" font-size="12.5" text-anchor="middle" textLength="14.4" lengthAdjust="spacingAndGlyphs" stroke="#111" stroke-width="0.45">##</text>
<path d="M271.5 501.1V491.5H351.5V501.1" fill="none" stroke="#111" stroke-width="1.2"/>
<text x="312.3" y="494.4" font-size="12.5" text-anchor="middle" textLength="12.2" lengthAdjust="spacingAndGlyphs" stroke="#111" stroke-width="0.3">**</text>
<path d="M354.5 501.1V491.5H385.5V501.1" fill="none" stroke="#111" stroke-width="1.2"/>
<text x="367.8" y="494.4" font-size="12.5" text-anchor="middle" stroke="#111" stroke-width="0.3">*</text>
<rect x="424.0" y="549.1" width="75.1" height="59.8" fill="#c0c0c0"/>
<rect x="430.9" y="566.6" width="15.2" height="7.0" fill="#dedede" stroke="#222" stroke-width="1.0"/>
<rect x="430.9" y="587.0" width="15.2" height="7.0" fill="#a4a4a8" stroke="#222" stroke-width="1.0"/>
<text x="455.8" y="574.6" font-size="12.3" textLength="37.7" lengthAdjust="spacingAndGlyphs" fill="#111" stroke="#111" stroke-width="0.15">Vehicle</text>
<text x="455.8" y="595.0" font-size="12.3" textLength="24.2" lengthAdjust="spacingAndGlyphs" fill="#111" stroke="#111" stroke-width="0.15">CBD</text>
</svg>
</body></html>
